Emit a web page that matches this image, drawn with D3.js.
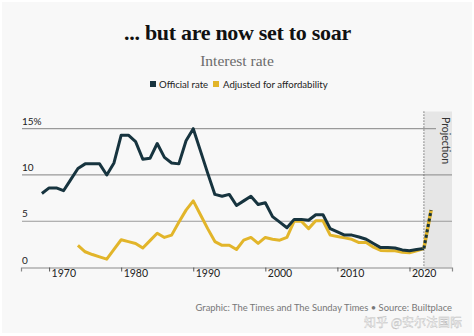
<!DOCTYPE html>
<html><head><meta charset="utf-8">
<script src="https://cdn.jsdelivr.net/npm/d3@7"></script>
<style>
html,body{margin:0;padding:0;background:#fff;}
svg{display:block;}
</style></head>
<body>
<svg id="c" width="474" height="336"></svg>
<script>
// ---- data ----
const officialYears = [1969,1970,1971,1972,1973,1974,1975,1976,1977,1978,1979,1980,1981,1982,1983,1984,1985,1986,1987,1988,1989,1990,1991,1992,1993,1994,1995,1996,1997,1998,1999,2000,2001,2002,2003,2004,2005,2006,2007,2008,2009,2010,2011,2012,2013,2014,2015,2016,2017,2018,2019,2020,2021,2022];
const officialValues = [8.0,8.6,8.6,8.3,9.5,10.7,11.2,11.2,11.2,10.0,11.3,14.3,14.3,13.6,11.7,11.8,13.4,11.9,11.3,11.2,13.7,15.0,12.6,10.2,7.9,7.7,7.9,6.7,7.2,7.7,6.8,7.0,5.5,4.9,4.3,5.2,5.2,5.1,5.7,5.7,4.2,3.85,3.5,3.5,3.3,3.05,2.6,2.15,2.15,2.1,1.9,1.8,1.95,2.05];
const adjustedYears = [1974,1975,1976,1977,1978,1979,1980,1981,1982,1983,1984,1985,1986,1987,1988,1989,1990,1991,1992,1993,1994,1995,1996,1997,1998,1999,2000,2001,2002,2003,2004,2005,2006,2007,2008,2009,2010,2011,2012,2013,2014,2015,2016,2017,2018,2019,2020,2021,2022];
const adjustedValues = [2.4,1.7,1.4,1.15,0.9,1.95,3.0,2.8,2.6,2.1,2.9,3.7,3.25,3.5,4.9,6.2,7.2,5.7,4.2,2.8,2.4,2.4,1.95,2.95,3.25,2.6,3.25,3.05,2.95,3.25,5.0,5.0,4.2,5.05,5.05,3.5,3.35,3.2,3.05,2.7,2.7,2.2,1.85,1.8,1.8,1.65,1.6,1.8,2.05];
const projectionYears = [2022,2023];
const projectionValues = [2.05,6.2];
const xTicks = [1970,1980,1990,2000,2010,2020];
const yTicks = [0,5,10,15];
const yTickLabels = ["0","5","10","15%"];
const seriesNames = ["Official rate","Adjusted for affordability"];
const colors = ["#17343f","#e2b52a"];

// ---- layout ----
const svg = d3.select("#c");
svg.append("rect").attr("x",2).attr("y",2).attr("width",470).attr("height",331).attr("fill","#f8f8f8");

const x = d3.scaleLinear().domain([1966.1,2025.9]).range([21,452]);
const y = d3.scaleLinear().domain([0,15]).range([267.5,128.7]);
const sans = "Lato,'Open Sans',sans-serif";

// title
svg.append("text").attr("x",237.5).attr("y",40).attr("text-anchor","middle")
  .attr("font-family","'Liberation Serif','DejaVu Serif',serif").attr("font-weight","bold")
  .attr("font-size",22).attr("letter-spacing",-0.3).attr("fill","#111").text("... but are now set to soar");
svg.append("text").attr("x",237).attr("y",66).attr("text-anchor","middle")
  .attr("font-family","'Liberation Serif','DejaVu Serif',serif")
  .attr("font-size",15.5).attr("fill","#6b6b6b").text("Interest rate");

// legend
const leg = [{x:150,tx:159},{x:213,tx:223}];
seriesNames.forEach((n,i)=>{
  svg.append("rect").attr("x",leg[i].x).attr("y",81).attr("width",6).attr("height",6).attr("fill",colors[i]);
  svg.append("text").attr("x",leg[i].tx).attr("y",88).attr("font-family",sans)
    .attr("font-size",9.6).attr("fill","#222").text(n);
});

// projection box
const projStart = 2022;
svg.append("rect").attr("x",x(projStart)).attr("y",111.5).attr("width",452-x(projStart)).attr("height",267.5-111.5)
  .attr("fill","#e6e6e6");

// gridlines
yTicks.slice(1).forEach(t=>{
  svg.append("line").attr("x1",22).attr("x2", t===15 ? 436 : 452).attr("y1",y(t)).attr("y2",y(t))
    .attr("stroke","#9a9a9a").attr("stroke-width",1.2);
});
yTicks.forEach((t,i)=>{
  svg.append("text").attr("x",22).attr("y",y(t)-4).attr("font-family",sans)
    .attr("font-size",10).attr("fill","#222").text(yTickLabels[i]);
});

// x axis
const xAxis = d3.axisBottom(x).tickValues(xTicks).tickSize(4).tickFormat(d3.format("d"));
const gx = svg.append("g").attr("transform",`translate(0,${y(0)})`).call(xAxis);
gx.select(".domain").attr("stroke","#8a8a8a").attr("stroke-width",1.2);
gx.selectAll(".tick line").attr("stroke","#555");
gx.selectAll(".tick text").attr("text-anchor","start").attr("dx",2).attr("dy",2)
  .attr("font-family",sans).attr("font-size",10.5).attr("fill","#222");

// projection divider
svg.append("line").attr("x1",x(projStart)).attr("x2",x(projStart)).attr("y1",111.5).attr("y2",267.5)
  .attr("stroke","#555").attr("stroke-width",1).attr("stroke-dasharray","1.2,1.8");
svg.append("text").attr("transform",`translate(${442},${117}) rotate(90)`)
  .attr("font-family",sans).attr("font-size",10.5).attr("fill","#333").text("Projection");

// lines
const line = d3.line().x(d=>x(d[0])).y(d=>y(d[1])).curve(d3.curveLinear);
const adj = adjustedYears.map((yr,i)=>[yr,adjustedValues[i]]);
const off = officialYears.map((yr,i)=>[yr,officialValues[i]]);
const proj = projectionYears.map((yr,i)=>[yr,projectionValues[i]]);
svg.append("path").datum(adj).attr("d",line).attr("fill","none").attr("stroke",colors[1])
  .attr("stroke-width",3).attr("stroke-linejoin","round");
svg.append("path").datum(off).attr("d",line).attr("fill","none").attr("stroke",colors[0])
  .attr("stroke-width",3).attr("stroke-linejoin","round");
svg.append("path").datum(proj).attr("d",line).attr("fill","none").attr("stroke",colors[1])
  .attr("stroke-width",3.5);
svg.append("path").datum(proj).attr("d",line).attr("fill","none").attr("stroke",colors[0])
  .attr("stroke-width",3).attr("stroke-dasharray","3,2.5");

// footer
svg.append("text").attr("x",452).attr("y",311).attr("text-anchor","end")
  .attr("font-family",sans).attr("font-size",9.4).attr("fill","#777")
  .text("Graphic: The Times and The Sunday Times \u2022 Source: Builtplace");
svg.append("text").attr("x",462).attr("y",327).attr("text-anchor","end")
  .attr("font-family","'Noto Sans CJK SC',sans-serif").attr("font-size",12)
  .attr("fill","#ffffff").attr("fill-opacity",0.85).attr("stroke","#bbb").attr("stroke-width",0.4)
  .text("知乎 @安尔法国际");
</script>
</body></html>
